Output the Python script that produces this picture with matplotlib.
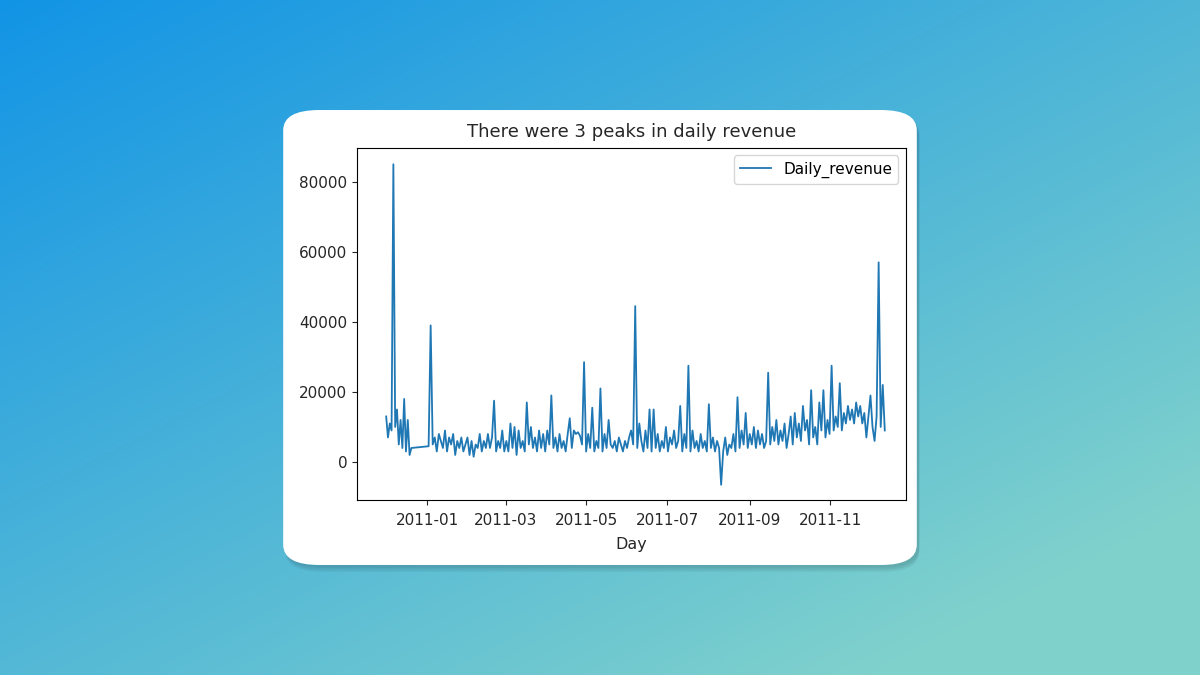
import matplotlib.pyplot as plt
import matplotlib.dates as mdates
from matplotlib.patches import FancyBboxPatch
import numpy as np
import pandas as pd

# daily revenue (before and after the holiday gap)
rev_dec2010 = [13000, 7000, 11000, 9000, 85000, 10000, 15000, 5000, 12000, 4000,
               18000, 3000, 12000, 2000, 4000]
rev_2011 = [4500, 39000, 5000, 7000, 3000, 8000, 6000, 4000, 9000, 3000, 7000, 5000,
            8000, 2000, 6000, 4000, 7000, 3000, 5000, 7000, 2000, 6000, 1500, 5000,
            4000, 8000, 3000, 6000, 4000, 8000, 4000, 7000, 17500, 3000, 6000, 4000,
            9000, 3000, 6000, 3000, 11000, 4000, 10000, 2000, 9000, 4000, 6000, 3000,
            17000, 5000, 10000, 4000, 7000, 3000, 9000, 4000, 8000, 3000, 9000, 5000,
            19000, 4000, 7000, 3000, 8000, 4000, 6000, 3000, 8000, 12500, 4000, 9000,
            8000, 8500, 7500, 5000, 28500, 3000, 8000, 4000, 15500, 3000, 6000, 4000,
            21000, 3000, 8000, 4000, 12000, 5000, 4000, 6000, 3000, 7000, 5000, 3000,
            6000, 4000, 7000, 9000, 5000, 44500, 4000, 11000, 6000, 3000, 9000, 4000,
            15000, 3000, 15000, 4000, 8000, 3000, 6000, 4000, 10000, 3000, 7000, 5000,
            9000, 4000, 6000, 16000, 3000, 8000, 4000, 27500, 3000, 9000, 4000, 6000,
            3000, 8000, 4000, 6000, 3000, 16500, 4000, 7000, 3000, 6000, 4000, -6500,
            3000, 7000, 2000, 5000, 4000, 8000, 3000, 18500, 4000, 9000, 5000, 14000,
            4000, 8000, 5000, 10000, 4000, 9000, 5000, 8000, 4000, 6000, 25500, 5000,
            10000, 6000, 12000, 5000, 9000, 6000, 11000, 4000, 8000, 13000, 5000, 14000,
            7000, 11000, 6000, 16000, 9000, 12000, 5000, 20500, 7000, 10000, 5000, 17000,
            9000, 20500, 7000, 12000, 8000, 27500, 9000, 13000, 10000, 22500, 9000, 14000,
            11000, 16000, 12000, 15000, 11000, 17000, 13000, 16000, 11000, 14000, 7000,
            13000, 19000, 10000, 6000, 13000, 57000, 10000, 22000, 9000]

days = pd.date_range("2010-12-01", "2010-12-20", periods=len(rev_dec2010)).append(
    pd.date_range("2011-01-02", "2011-12-12", periods=len(rev_2011)))
revenue = rev_dec2010 + rev_2011

fig = plt.figure(figsize=(12, 6.75), dpi=100)

# gradient background
bg = fig.add_axes([0, 0, 1, 1], zorder=0)
gx, gy = np.meshgrid(np.linspace(0, 1, 300), np.linspace(0, 1, 200))
t = np.clip(0.55 * gx + 0.6 * gy, 0, 1)
c0 = np.array([0.07, 0.58, 0.90])
c1 = np.array([0.50, 0.82, 0.80])
img = c0 + (c1 - c0) * t[..., None]
bg.imshow(img, extent=[0, 1, 0, 1], aspect='auto')
bg.set_xlim(0, 1)
bg.set_ylim(0, 1)
bg.axis('off')

# white card with soft shadow
for i, a in enumerate([0.05, 0.05, 0.06]):
    bg.add_patch(FancyBboxPatch((0.236 + 0.002, 0.163 - 0.004 - i * 0.003), 0.528, 0.674,
                                boxstyle="round,pad=0,rounding_size=0.03",
                                fc='black', ec='none', alpha=a, zorder=2))
bg.add_patch(FancyBboxPatch((0.236, 0.163), 0.528, 0.674,
                            boxstyle="round,pad=0,rounding_size=0.03",
                            fc='white', ec='none', zorder=3))

ax = fig.add_axes([0.2975, 0.259, 0.4575, 0.522], zorder=1)
ax.plot(days, revenue, color='#1f77b4', linewidth=1.3, label='Daily_revenue')
ax.set_xlim(pd.Timestamp("2010-11-09"), pd.Timestamp("2011-12-28"))
ax.set_ylim(-10900, 89700)
ax.set_yticks([0, 20000, 40000, 60000, 80000])
ax.xaxis.set_major_locator(mdates.MonthLocator(bymonth=[1, 3, 5, 7, 9, 11]))
ax.xaxis.set_major_formatter(mdates.DateFormatter('%Y-%m'))
ax.tick_params(labelsize=11, colors='#262626')
ax.tick_params(axis='x', pad=6)
ax.set_xlabel('Day', fontsize=11.5, color='#262626', labelpad=6)
ax.set_title('There were 3 peaks in daily revenue', fontsize=13, color='#262626', pad=8)
ax.legend(loc='upper right', fontsize=11)

fig.savefig('out.png', dpi=100)
